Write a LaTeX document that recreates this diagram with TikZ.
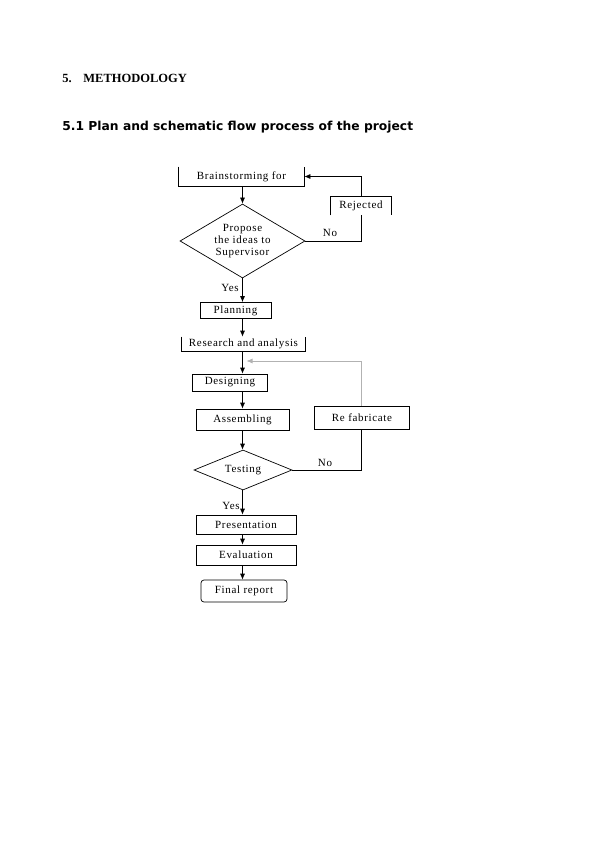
\documentclass[tikz,border=0pt]{standalone}
\usepackage{fontspec}
\setmainfont{Liberation Serif}
\newfontfamily\chartfont[LetterSpace=6]{Liberation Serif}
\newfontfamily\headfont{DejaVu Sans}
\usetikzlibrary{shapes.geometric,arrows.meta}

\begin{document}
\begin{tikzpicture}[>={Latex[length=6pt,width=5pt]}, x=1pt, y=-1pt, line width=0.7pt,
		box/.style={draw, rectangle, inner sep=0pt, font=\chartfont\fontsize{11}{12}\selectfont},
		openbox/.style={rectangle, inner sep=0pt, font=\chartfont\fontsize{11}{12}\selectfont},
		decision/.style={draw, diamond, inner sep=0pt, align=center, font=\chartfont\fontsize{11}{12}\selectfont},
		lbl/.style={inner sep=0pt, font=\chartfont\fontsize{11}{12}\selectfont}]
		\useasboundingbox (0,0) rectangle (595,842);
		% TITOLI
		\node [anchor=west, inner sep=0pt, font=\bfseries\fontsize{12.5}{14}\selectfont] (sec) at (62,78) {5.\hspace{0.6em} METHODOLOGY};
		\node [anchor=west, inner sep=0pt, font=\headfont\bfseries\fontsize{12.3}{14}\selectfont] (subsec) at (62,127) {5.1 Plan and schematic flow process of the project};
		% BLOCCHI
		\node [openbox, minimum width=125pt, minimum height=19pt] (brain) at (241.5,176.5) {Brainstorming for};
		\node [decision, minimum width=125pt, minimum height=74pt, aspect=1.7] (propose) at (242.5,241) {Propose\\the ideas to\\Supervisor};
		\node [openbox, minimum width=60pt, minimum height=18pt] (rejected) at (361,206) {Rejected};
		\node [box, minimum width=71pt, minimum height=16pt] (planning) at (235.5,310.5) {Planning};
		\node [openbox, minimum width=123pt, minimum height=14pt] (research) at (243.5,344) {Research and analysis};
		\node [box, minimum width=75pt, minimum height=17pt] (design) at (230,382.5) {Designing};
		\node [box, minimum width=93pt, minimum height=21pt] (assemble) at (242.5,419.5) {Assembling};
		\node [box, minimum width=95pt, minimum height=23pt] (refab) at (362,417.5) {Re fabricate};
		\node [decision, minimum width=98pt, minimum height=40pt, aspect=2.4] (testing) at (243,470) {Testing};
		\node [box, minimum width=100pt, minimum height=19pt] (present) at (246,524.5) {Presentation};
		\node [box, minimum width=100pt, minimum height=20pt] (eval) at (246,555) {Evaluation};
		\node [box, rounded corners=3pt, minimum width=86pt, minimum height=22pt] (final) at (244,591) {Final report};
		% lati aperti
		\draw (brain.north west) -- (brain.south west) -- (brain.south east) -- (brain.north east);
		\draw (research.north west) -- (research.south west) -- (research.south east) -- (research.north east);
		\draw (rejected.south west) -- (rejected.north west) -- (rejected.north east) -- (rejected.south east);
		% NOMI
		\node [lbl] (yes1) at (230,288) {Yes};
		\node [lbl] (no1) at (330,233) {No};
		\node [lbl] (no2) at (325,463) {No};
		\node [lbl] (yes2) at (231,506) {Yes};
		% Flusso principale
		\draw [->] (brain.south -| propose.north) -- (propose.north);
		\draw [->] (propose.south) -- (propose.south |- planning.north);
		\draw [->] (propose.south |- planning.south) -- (propose.south |- research.north);
		\draw [->] (propose.south |- research.south) -- (propose.south |- design.north);
		\draw [->] (propose.south |- design.south) -- (propose.south |- assemble.north);
		\draw [->] (assemble.south -| propose.south) -- (testing.north -| propose.south);
		\draw [->] (testing.south -| propose.south) -- (propose.south |- present.north);
		\draw [->] (propose.south |- present.south) -- (propose.south |- eval.north);
		\draw [->] (propose.south |- eval.south) -- (propose.south |- final.north);
		% Ciclo rifiuto
		\draw (propose.east) -| (rejected.south);
		\draw [->] (rejected.north) |- (brain.east);
		% Ciclo test
		\coordinate (loopin) at (246.5,361);
		\draw (testing.east) -| (refab.south -| rejected.south);
		\draw [gray!60, ->] (refab.north -| rejected.north) |- (loopin);
	\end{tikzpicture}
\end{document}
